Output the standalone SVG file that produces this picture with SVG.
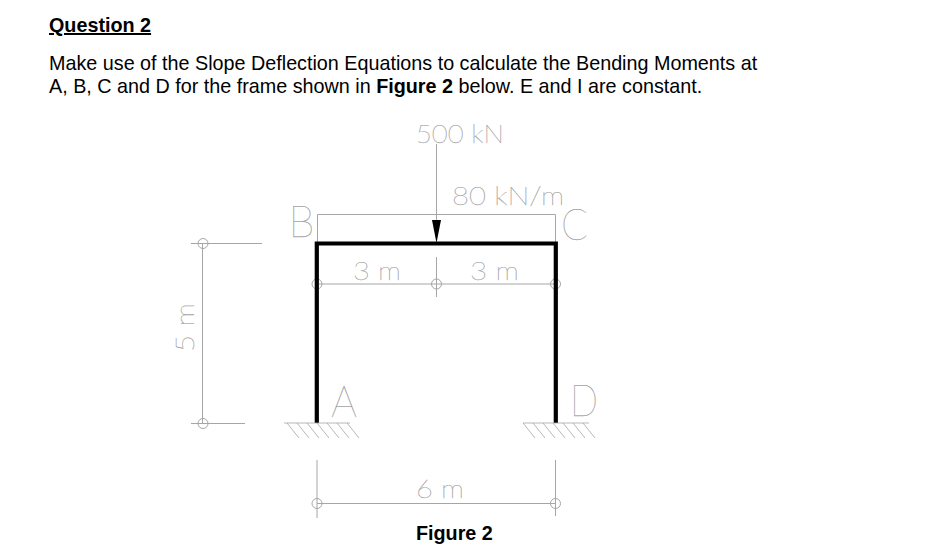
<svg xmlns="http://www.w3.org/2000/svg" width="933" height="550" viewBox="0 0 933 550">
<style>
.t{font-family:"Liberation Sans",Arial,sans-serif;font-size:19.75px;fill:#000}
.b{font-weight:bold}
.c{font-family:Lato,"Liberation Sans",sans-serif;font-weight:100;fill:#8c8c8c;stroke:#a8a8a8;stroke-width:.25}
.s{font-size:25px}
.l{font-size:44px}
.d{fill:none;stroke:#a6a6a6;stroke-width:1}
.f{fill:none;stroke:#000;stroke-width:4.2;stroke-linejoin:miter}
.h{fill:none;stroke:#a6a6a6;stroke-width:.8}
</style>
<rect width="933" height="550" fill="#fff"/>
<g id="heading">
<text class="t b" x="49" y="32" text-decoration="underline">Question 2</text>
<text class="t" x="49" y="70">Make use of the Slope Deflection Equations to calculate the Bending Moments at</text>
<text class="t" x="49" y="93">A, B, C and D for the frame shown in <tspan class="b">Figure 2</tspan> below. E and I are constant.</text>
<text class="t b" x="416" y="540">Figure 2</text>
</g>
<g id="connectors">
<g id="dim-5m" class="d">
<path d="M202.5 243V423.5M191 243.5H262M191 423.5H245"/>
<circle cx="203" cy="243.5" r="5"/><circle cx="203" cy="423.5" r="5"/>
</g>
<g id="dim-3m" class="d">
<path d="M317 284H555M436.5 257V297"/>
<circle cx="317" cy="284" r="5"/><circle cx="436.5" cy="284" r="5"/><circle cx="555.5" cy="284" r="5"/>
</g>
<g id="dim-6m" class="d">
<path d="M317 503.5H555.5M317 460V518M555.5 460V516"/>
<circle cx="317" cy="503.5" r="5"/><circle cx="555.5" cy="503.5" r="5"/>
</g>
<g id="udl" class="d"><path d="M317.5 243V214.5H555.5V243"/></g>
<g id="point-load">
<path d="M436.5 144V222" class="d"/>
<path d="M432 220H441L436.5 243Z" fill="#000"/>
</g>
</g>
<g id="frame"><path class="f" d="M316.8 423V243.5H555.8V423"/></g>
<g id="support-A" class="h">
<path d="M284 423H350M287 423l12 15M297 423l12 15M307 423l12 15M317 423l12 15M327 423l12 15M337 423l12 15M347 423l12 15"/>
</g>
<g id="support-D" class="h">
<path d="M523 423H589M523 423l12 15M533 423l12 15M543 423l12 15M553 423l12 15M563 423l12 15M573 423l12 15M583 423l12 15"/>
</g>
<g id="labels">
<text class="c s" x="416" y="143" textLength="88" lengthAdjust="spacingAndGlyphs">500 kN</text>
<text class="c s" x="452" y="205" textLength="112" lengthAdjust="spacingAndGlyphs">80 kN/m</text>
<text class="c s" x="353" y="280" textLength="48" lengthAdjust="spacingAndGlyphs">3 m</text>
<text class="c s" x="470" y="280" textLength="49" lengthAdjust="spacingAndGlyphs">3 m</text>
<text class="c s" x="416" y="498" textLength="48" lengthAdjust="spacingAndGlyphs">6 m</text>
<text class="c s" transform="translate(193.5 352) rotate(-90)" textLength="49" lengthAdjust="spacingAndGlyphs">5 m</text>
</g>
<g id="node-B"><text class="c l" x="288.5" y="237" textLength="26" lengthAdjust="spacingAndGlyphs">B</text></g>
<g id="node-C"><text class="c l" x="561" y="240" textLength="27" lengthAdjust="spacingAndGlyphs">C</text></g>
<g id="node-A"><text class="c l" x="331" y="417" textLength="26" lengthAdjust="spacingAndGlyphs">A</text></g>
<g id="node-D"><text class="c l" x="570" y="416" textLength="28" lengthAdjust="spacingAndGlyphs">D</text></g>
</svg>
